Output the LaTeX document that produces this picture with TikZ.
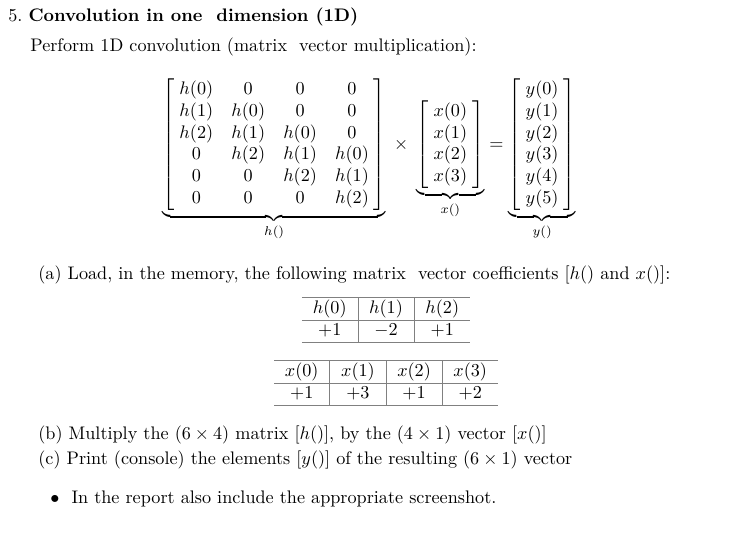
\documentclass[tikz,border=0pt]{standalone}
\usepackage{amsmath}
\usepackage[table]{xcolor}
\newcommand{\pbm}[1]{\left[\;\begin{matrix}#1\end{matrix}\;\right]}
\begin{document}
\begin{tikzpicture}[x=0.55pt,y=-0.55pt,txt/.style={anchor=base west,inner sep=0pt}]
\useasboundingbox (0,0) rectangle (739,532);
\node[txt] (t) at (8,21) {5.\ \textbf{Convolution in one\ \ dimension (1D)}};
\node[txt] (p) at (30,51) {Perform 1D convolution (matrix\ \ vector multiplication):};
\node (eq) at (369,160) {$\underbrace{\pbm{ h(0)&0&0&0\\ h(1)&h(0)&0&0\\ h(2)&h(1)&h(0)&0\\ 0&h(2)&h(1)&h(0)\\ 0&0&h(2)&h(1)\\ 0&0&0&h(2)}}_{h()}
\;\times\;
\underbrace{\pbm{ x(0)\\x(1)\\x(2)\\x(3)}}_{x()}
=
\underbrace{\pbm{ y(0)\\y(1)\\y(2)\\y(3)\\y(4)\\y(5)}}_{y()}$};
\node[txt] (a) at (38,279) {(a)\ Load, in the memory, the following matrix\ \ vector coefficients $[h()$ and $x()]$:};
\arrayrulecolor{gray}
\node (tab1) at (386,320) {\begin{tabular}{c|c|c}\hline $h(0)$&$h(1)$&$h(2)$\\\hline $+1$&$-2$&$+1$\\\hline\end{tabular}};
\node (tab2) at (386,383) {\begin{tabular}{c|c|c|c}\hline $x(0)$&$x(1)$&$x(2)$&$x(3)$\\\hline $+1$&$+3$&$+1$&$+2$\\\hline\end{tabular}};
\node[txt] (b) at (38,439) {(b)\ Multiply the $(6\times4)$ matrix $[h()]$, by the $(4\times1)$ vector $[x()]$};
\node[txt] (c) at (38,464) {(c)\ Print (console) the elements $[y()]$ of the resulting $(6\times1)$ vector};
\node[txt] (d) at (50,503) {$\bullet$\ \ In the report also include the appropriate screenshot.};
\end{tikzpicture}
\end{document}
